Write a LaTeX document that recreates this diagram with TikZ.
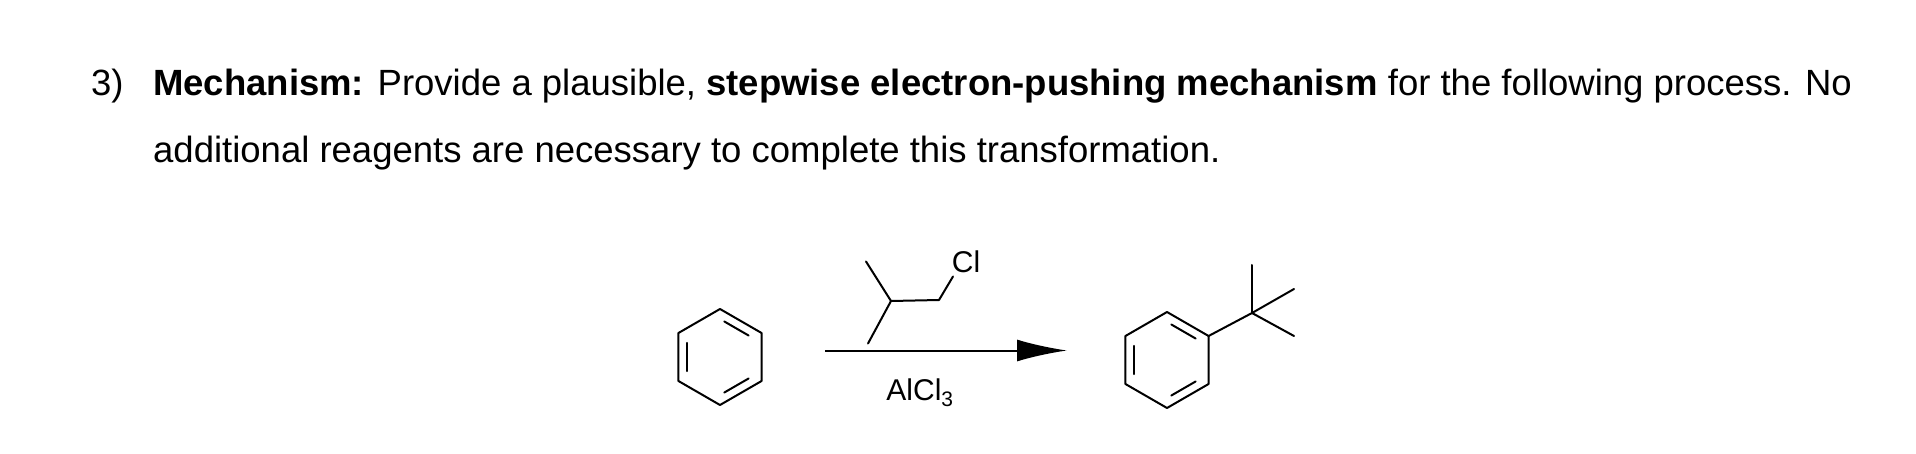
\documentclass[tikz,border=0pt]{standalone}
\usepackage{fontspec}
\setmainfont{Liberation Sans}
\usetikzlibrary{arrows.meta,calc}
\begin{document}
\begin{tikzpicture}[x=1pt,y=-1pt,
  bond/.style={line width=2pt,line cap=round,line join=round},
  txt/.style={inner sep=0pt,anchor=base west,font=\fontsize{36.5}{44}\selectfont},
  lbl/.style={inner sep=0pt,font=\fontsize{30}{34}\selectfont}]
\useasboundingbox (0,0) rectangle (1916,454);
\node[txt] (num) at (91,96) {3)};
\node[txt] (l1) at (153,96) {\textbf{Mechanism:} Provide a plausible, \textbf{stepwise electron-pushing mechanism} for the following process. No};
\node[txt] (l2) at (153,163) {additional reagents are necessary to complete this transformation.};
% benzene rings
\foreach \cx/\cy in {720/357,1167/360}{
  \begin{scope}[shift={(\cx,\cy)}]
    \draw[bond] (-90:48) -- (-30:48) -- (30:48) -- (90:48) -- (150:48) -- (210:48) -- cycle;
    \foreach \a/\b in {-90/-30,30/90,150/210}
      \draw[bond] ($(\a:38)!0.13!(\b:38)$) -- ($(\b:38)!0.13!(\a:38)$);
  \end{scope}
}
% tert-butyl on product
\coordinate (ipso) at ($(1167,360)+(-30:48)$);
\coordinate (cq) at (1252,313);
\draw[bond] (ipso) -- (cq);
\draw[bond] (cq) -- (1252,265);
\draw[bond] (cq) -- (1294,289);
\draw[bond] (cq) -- (1294,336);
% arrow
\coordinate (as) at (825,350.5);
\coordinate (ae) at (1067,350.5);
\draw[line width=2pt,-{Latex[length=50pt,width=22pt]}] (as) -- (ae);
% isobutyl chloride
\node[lbl] (cl) at (966,262) {Cl};
\draw[bond] (866,261.5) -- (891,301) -- (868,343.5);
\draw[bond] (891,301) -- (939,300) -- (953,276.5);
\node[lbl,anchor=base] (alcl) at (920,400) {AlCl\textsubscript{3}};
\end{tikzpicture}
\end{document}
